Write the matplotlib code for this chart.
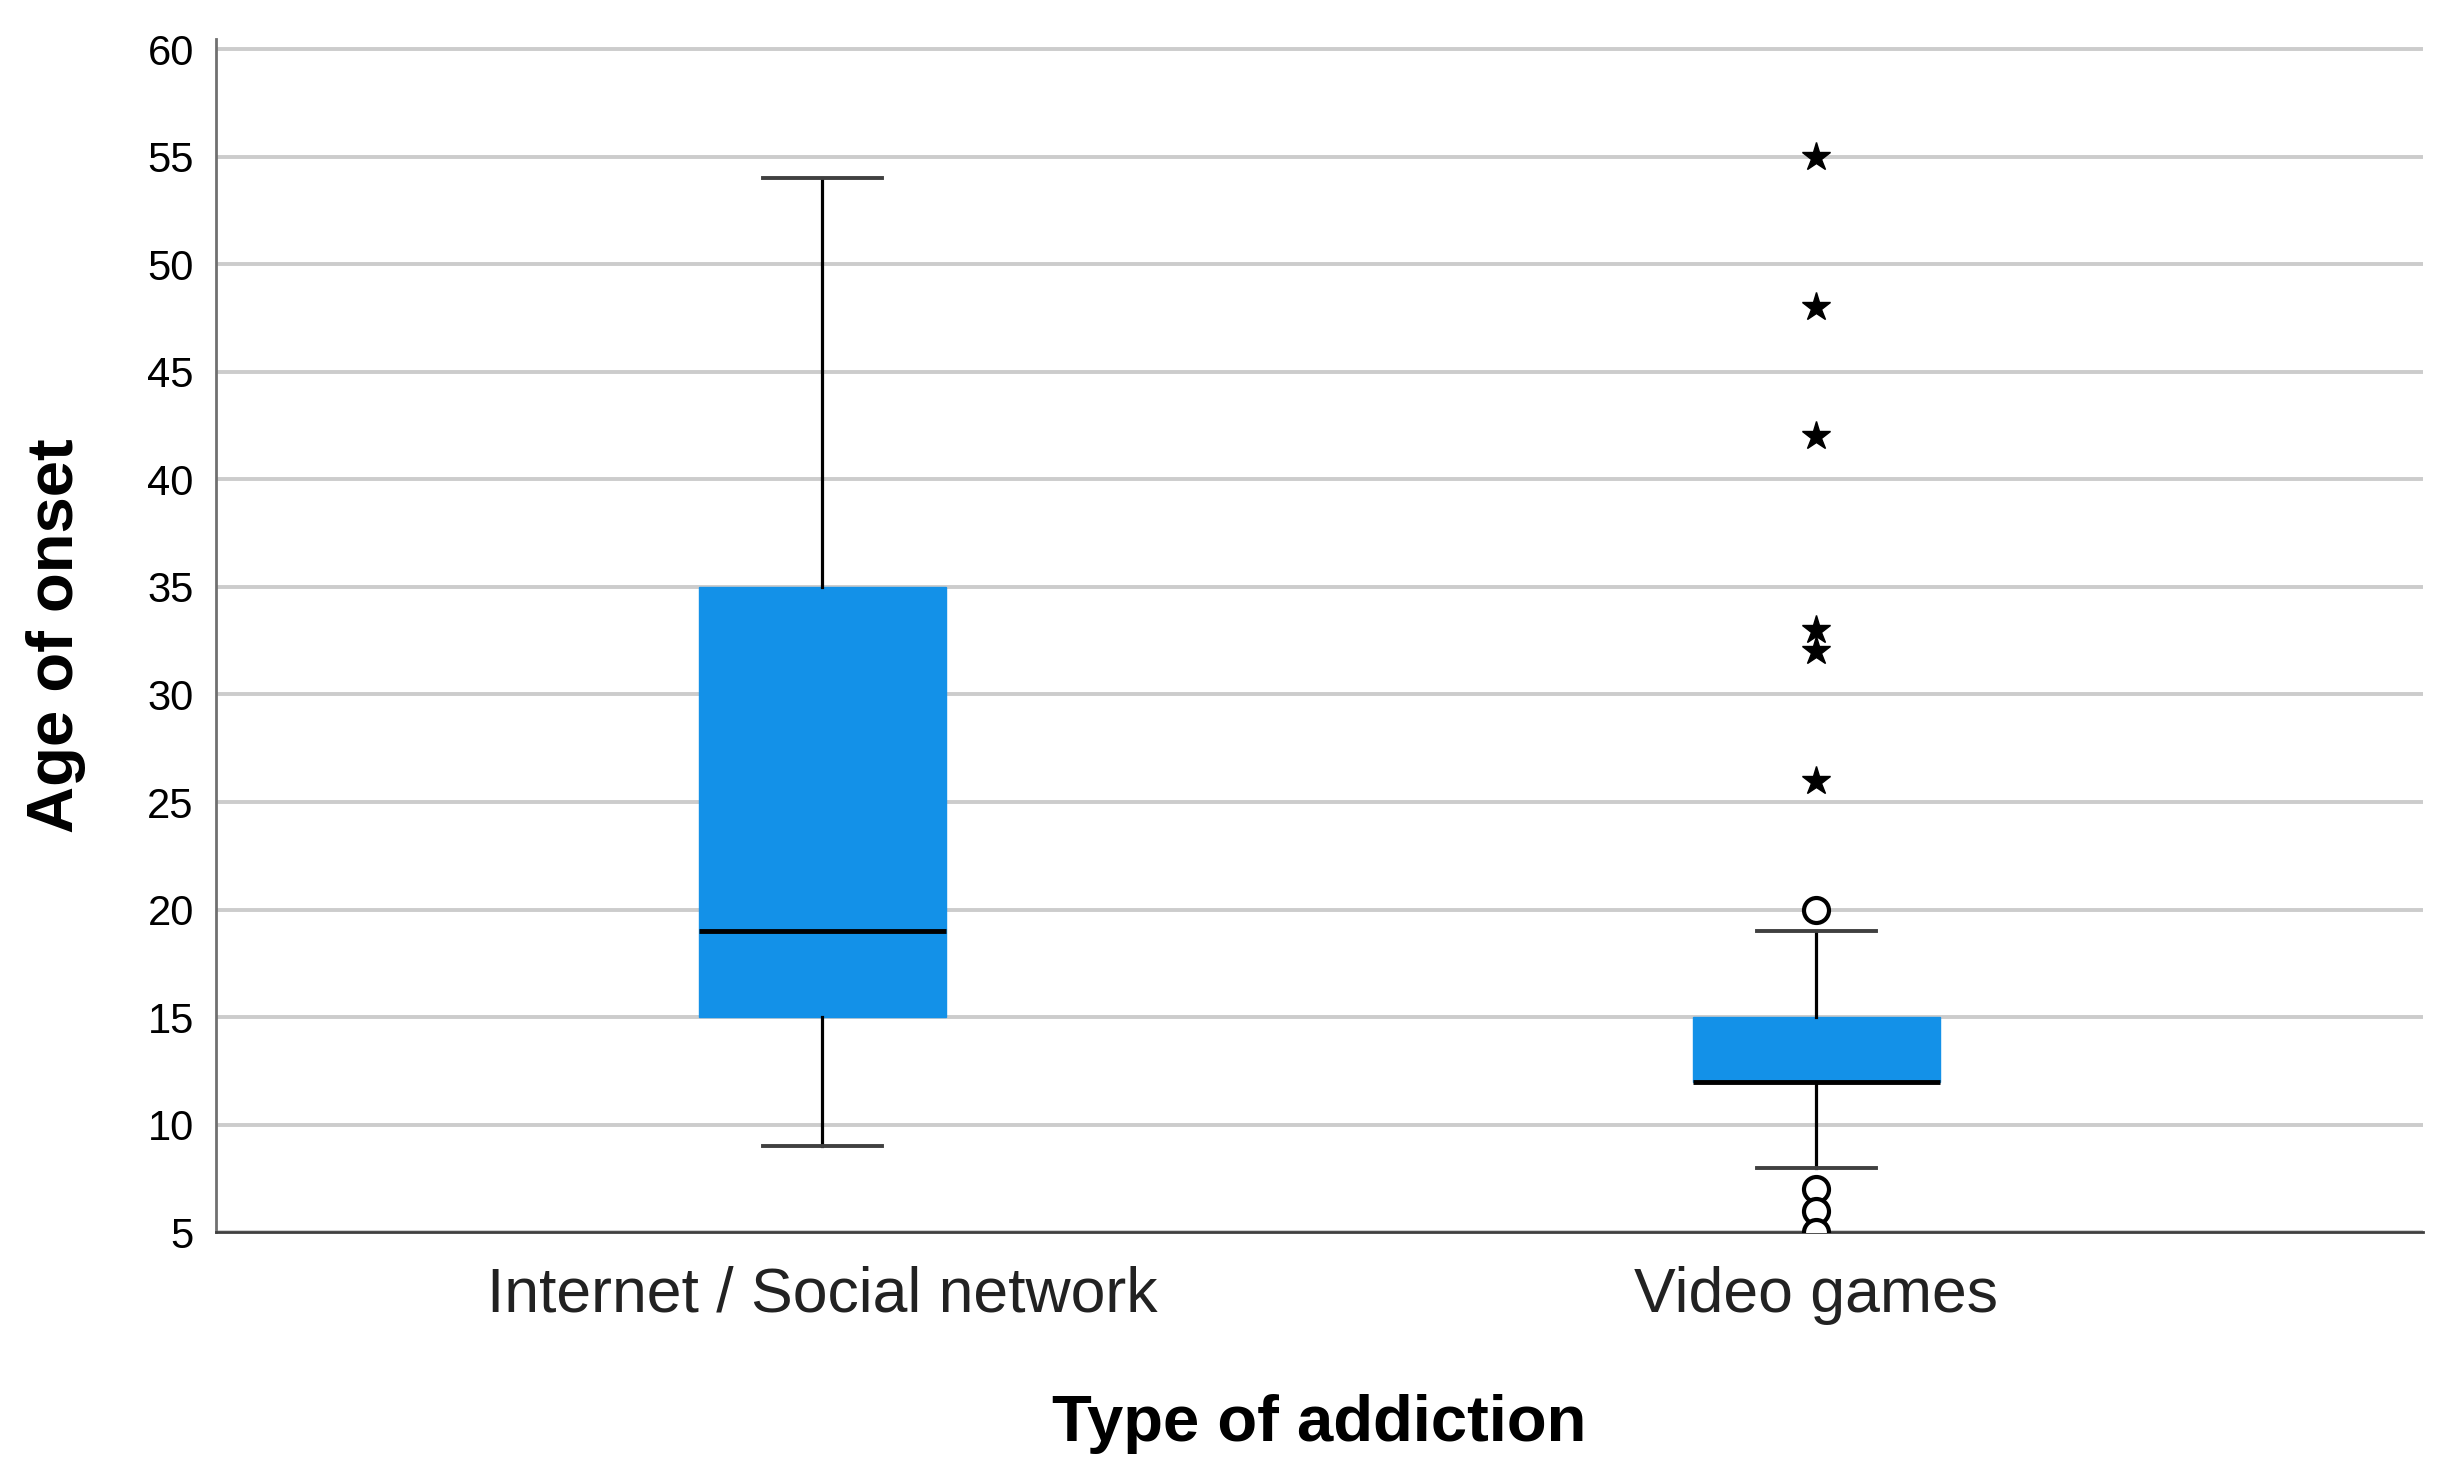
import matplotlib
matplotlib.use("Agg")
import matplotlib.pyplot as plt

# values
groups = ["Internet / Social network", "Video games"]
whisker_low = [9, 8]
q1 = [15, 12]
median = [19, 12]
q3 = [35, 15]
whisker_high = [54, 19]
# outliers (circles) and extreme values (stars)
outliers = [[], [20, 7, 6, 5]]
extremes = [[], [55, 48, 42, 33, 32, 26]]

box_color = "#1391e8"

plt.rcParams["font.family"] = ["Liberation Sans", "DejaVu Sans"]

fig = plt.figure(figsize=(24.6, 14.81), dpi=100)
ax = fig.add_axes([0.0878, 0.168, 0.897, 0.806])

stats = []
for i, name in enumerate(groups):
    stats.append({
        "label": name,
        "whislo": whisker_low[i],
        "q1": q1[i],
        "med": median[i],
        "q3": q3[i],
        "whishi": whisker_high[i],
        "fliers": [],
    })

positions = [1, 2]
ax.bxp(stats, positions=positions, widths=0.248, patch_artist=True,
       showfliers=False, capwidths=0.12,
       boxprops=dict(facecolor=box_color, edgecolor=box_color, linewidth=1),
       medianprops=dict(color="black", linewidth=3.5),
       whiskerprops=dict(color="black", linewidth=2.3),
       capprops=dict(color="#404040", linewidth=2.8),
       zorder=3)

# outliers and extremes
for pos, vals in zip(positions, outliers):
    if vals:
        ax.plot([pos] * len(vals), vals, linestyle="none", marker="o",
                markersize=18, markerfacecolor="white", markeredgecolor="black",
                markeredgewidth=3, zorder=4)
for pos, vals in zip(positions, extremes):
    if vals:
        ax.plot([pos] * len(vals), vals, linestyle="none", marker="*",
                markersize=21, color="black", zorder=4)

ax.set_xlim(0.39, 2.61)
ax.set_ylim(5, 60.5)
ax.set_yticks(range(5, 61, 5))
ax.set_xticks(positions)
ax.set_xticklabels(groups)

ax.yaxis.grid(True, color="#cccccc", linewidth=2.8)
ax.set_axisbelow(True)

ax.spines["top"].set_visible(False)
ax.spines["right"].set_visible(False)
ax.spines["left"].set_color("#707070")
ax.spines["left"].set_linewidth(2)
ax.spines["bottom"].set_color("#404040")
ax.spines["bottom"].set_linewidth(2)

ax.tick_params(axis="y", length=0, pad=16, labelsize=30, labelcolor="black")
ax.tick_params(axis="x", length=0, pad=24, labelsize=45, labelcolor="#222222")

ax.set_xlabel("Type of addiction", fontsize=47, fontweight="bold", labelpad=50)
ax.set_ylabel("Age of onset", fontsize=47, fontweight="bold", labelpad=44)

fig.savefig("out.png", dpi=100, facecolor="white")
